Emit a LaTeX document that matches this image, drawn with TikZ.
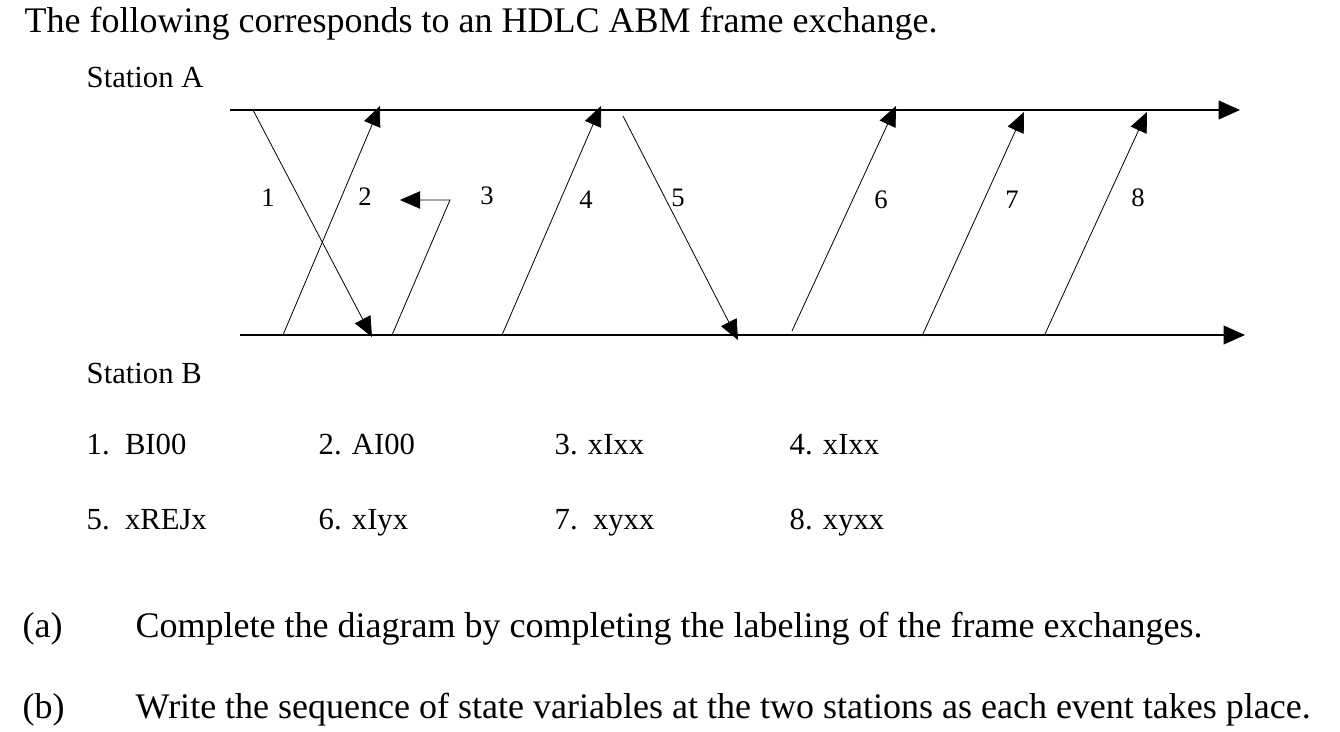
\documentclass[tikz,border=0pt]{standalone}
\usepackage{fontspec}
\setmainfont{Liberation Serif}
\usetikzlibrary{arrows.meta}
\begin{document}
\begin{tikzpicture}[x=0.75pt,y=-0.75pt,
  line/.style={line width=0.6pt,-{Triangle[length=15pt,width=13pt]}},
  axis/.style={line width=1.3pt,-{Triangle[length=16pt,width=14pt]}},
  num/.style={font=\fontsize{20}{22}\selectfont},
  lst/.style={anchor=base west,font=\fontsize{23}{26}\selectfont},
  big/.style={anchor=base west,font=\fontsize{27}{30}\selectfont}]
\useasboundingbox (0,0) rectangle (1340,732);
\node[big] (title) at (20,32) {The following corresponds to an HDLC ABM frame exchange.};
\node[lst] (sa) at (82,87) {Station A};
\node[lst] (sb) at (82,383) {Station B};
\coordinate (a0) at (230,110); \coordinate (a1) at (1240,110);
\coordinate (b0) at (240,335); \coordinate (b1) at (1245,335);
\draw[axis] (a0) -- (a1);
\draw[axis] (b0) -- (b1);
\coordinate (s1) at (253,110); \coordinate (e1) at (372,337);
\coordinate (s2) at (283,335); \coordinate (e2) at (380,106);
\coordinate (s3) at (392,335); \coordinate (m3) at (450,200); \coordinate (e3) at (400,200);
\coordinate (s4) at (502,335); \coordinate (e4) at (601,106);
\coordinate (s5) at (623,116); \coordinate (e5) at (738,340);
\coordinate (s6) at (792,331); \coordinate (e6) at (896,106);
\coordinate (s7) at (922,336); \coordinate (e7) at (1024,112);
\coordinate (s8) at (1045,334); \coordinate (e8) at (1147,112);
\draw[line] (s1) -- (e1);
\draw[line] (s2) -- (e2);
\draw[line] (s3) -- (m3) -- (e3);
\draw[line] (s4) -- (e4);
\draw[line] (s5) -- (e5);
\draw[line] (s6) -- (e6);
\draw[line] (s7) -- (e7);
\draw[line] (s8) -- (e8);
\node[num] (l1) at (268,198) {1};
\node[num] (l2) at (365,197) {2};
\node[num] (l3) at (487,196) {3};
\node[num] (l4) at (586,200) {4};
\node[num] (l5) at (678,198) {5};
\node[num] (l6) at (881,200) {6};
\node[num] (l7) at (1012,200) {7};
\node[num] (l8) at (1138,198) {8};
\node[lst] (f1) at (82,454) {1.\ \ BI00};
\node[lst] (f2) at (314,454) {2. AI00};
\node[lst] (f3) at (550,454) {3. xIxx};
\node[lst] (f4) at (785,454) {4. xIxx};
\node[lst] (f5) at (82,529) {5.\ \ xREJx};
\node[lst] (f6) at (314,529) {6. xIyx};
\node[lst] (f7) at (550,529) {7.\ \ xyxx};
\node[lst] (f8) at (785,529) {8. xyxx};
\node[big] (qa) at (18,637) {(a)};
\node[big] (ta) at (131,637) {Complete the diagram by completing the labeling of the frame exchanges.};
\node[big] (qb) at (18,718) {(b)};
\node[big] (tb) at (131,718) {Write the sequence of state variables at the two stations as each event takes place.};
\end{tikzpicture}
\end{document}
